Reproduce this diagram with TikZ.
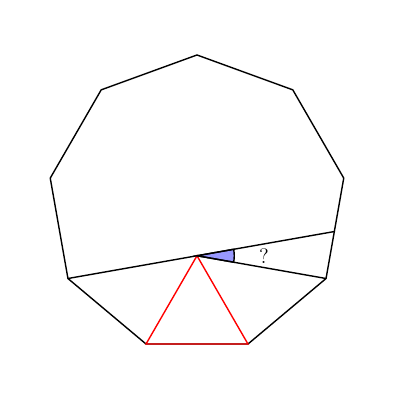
\documentclass[tikz,border=0pt]{standalone}
\usepackage{amsmath}
\usetikzlibrary{calc}
\tikzset{>=stealth}

\begin{document}
\begin{tikzpicture}[line width=0.8pt]
      \useasboundingbox (-3.966,-3.946) rectangle (4.087,4.107);
      % nonagon corners
      \foreach \k in {0,...,8}
        \coordinate (v\k) at ({90+40*\k}:3);
      \coordinate (a) at ($(v4)!1!60:(v5)$);
      \coordinate (p) at (intersection of v3--a and v7--v6);
      \filldraw[fill=blue!40,draw=black] (a) -- ++(-10:0.75) arc (-10:10:0.75) -- cycle;
      \draw (v0) -- (v1) -- (v2) -- (v3) -- (v4) -- (v5) -- (v6) -- (v7) -- (v8) -- cycle;
      \draw[red] (v4) -- (v5) -- (a) -- cycle;
      \draw (v3) -- (a) -- (p);
      \draw (a) -- (v6);
      \node[font=\large] at ($(a)+(1.35,0)$) {$?$};
    \end{tikzpicture}
\end{document}
